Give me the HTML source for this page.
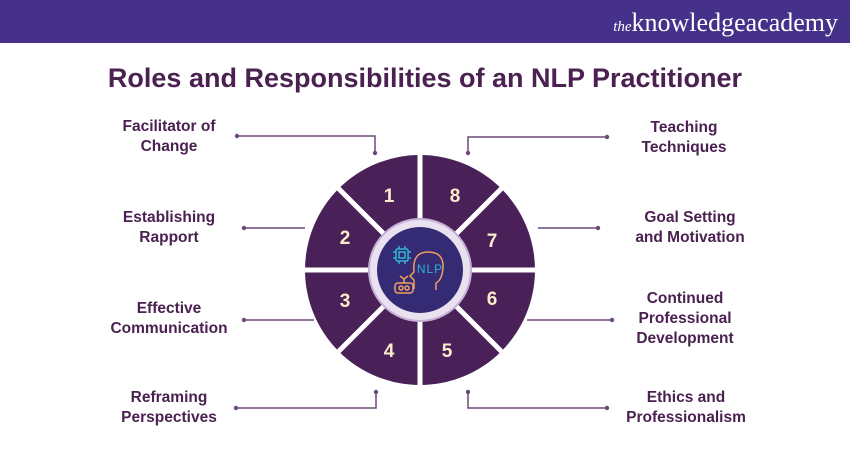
<!DOCTYPE html>
<html><head><meta charset="utf-8"><style>
body{margin:0;background:#fff;}
svg{display:block;font-family:"Liberation Sans",sans-serif;}
</style></head><body>
<svg width="850" height="450" viewBox="0 0 850 450" xmlns="http://www.w3.org/2000/svg">
<rect x="0" y="0" width="850" height="43" fill="#45318a"/>
<text x="838" y="31" text-anchor="end" font-family="Liberation Serif,serif" font-size="26" fill="#fff"><tspan font-style="italic" font-size="15">the</tspan>knowledgeacademy</text>
<text x="425" y="87" text-anchor="middle" font-size="27" font-weight="bold" fill="#4a2150">Roles and Responsibilities of an NLP Practitioner</text>

<circle cx="420" cy="270" r="115" fill="#4a2058"/>
<g stroke="#fff" stroke-width="5">
<line x1="420" y1="150" x2="420" y2="390"/>
<line x1="300" y1="270" x2="540" y2="270"/>
<line x1="335" y1="185" x2="505" y2="355"/>
<line x1="505" y1="185" x2="335" y2="355"/>
</g>
<circle cx="420" cy="270" r="51" fill="#e9e0f0" stroke="#c4b0d4" stroke-width="2"/>
<circle cx="420" cy="270" r="43" fill="#352a74"/>
<g fill="none" stroke-width="1.5">
<rect x="396" y="249" width="12" height="12" rx="1.5" stroke="#2fb5d0"/>
<rect x="399" y="252" width="6" height="6" stroke="#2fb5d0"/>
<path d="M399 249v-3M405 249v-3M399 261v3M405 261v3M396 252h-3M396 258h-3M408 252h3M408 258h3" stroke="#2fb5d0"/>
<path d="M414 289 L414 280 L410 276 L414 272 Q412 252 428 252 Q444 252 443 268 Q442 280 436 283 L436 290" stroke="#f0a060"/>
<rect x="395" y="283" width="18" height="10" rx="3" stroke="#f0a060"/>
<circle cx="401" cy="288" r="2" stroke="#f0a060"/><circle cx="407" cy="288" r="2" stroke="#f0a060"/>
<path d="M404 283v-4M400 276l4 3 4-3" stroke="#f0a060"/>
</g>
<text x="430" y="273" text-anchor="middle" font-size="12" fill="#2fb5d0" letter-spacing="1">NLP</text>

<g font-size="19" font-weight="bold" fill="#fbeccb" text-anchor="middle">
<text x="389" y="202">1</text><text x="455" y="202">8</text>
<text x="345" y="244">2</text><text x="492" y="247">7</text>
<text x="345" y="307">3</text><text x="492" y="305">6</text>
<text x="389" y="357">4</text><text x="447" y="357">5</text>
</g>

<g stroke="#6b4a78" stroke-width="1.5" fill="none">
<path d="M237 136H375V153"/><path d="M244 228H305"/><path d="M244 320H314"/><path d="M236 408H376V392"/>
<path d="M468 153V137H607"/><path d="M538 228H598"/><path d="M527 320H612"/><path d="M468 392V408H607"/>
</g>
<g fill="#6b4a78">
<circle cx="237" cy="136" r="2.2"/><circle cx="375" cy="153" r="2.2"/><circle cx="244" cy="228" r="2.2"/><circle cx="244" cy="320" r="2.2"/>
<circle cx="236" cy="408" r="2.2"/><circle cx="376" cy="392" r="2.2"/><circle cx="468" cy="153" r="2.2"/><circle cx="607" cy="137" r="2.2"/>
<circle cx="598" cy="228" r="2.2"/><circle cx="612" cy="320" r="2.2"/><circle cx="468" cy="392" r="2.2"/><circle cx="607" cy="408" r="2.2"/>
</g>

<g font-size="15.5" font-weight="bold" fill="#4a2150" text-anchor="middle">
<text x="169" y="131">Facilitator of</text><text x="169" y="151">Change</text>
<text x="169" y="222">Establishing</text><text x="169" y="242">Rapport</text>
<text x="169" y="313">Effective</text><text x="169" y="333">Communication</text>
<text x="169" y="402">Reframing</text><text x="169" y="422">Perspectives</text>
<text x="684" y="132">Teaching</text><text x="684" y="152">Techniques</text>
<text x="690" y="222">Goal Setting</text><text x="690" y="242">and Motivation</text>
<text x="685" y="303">Continued</text><text x="685" y="323">Professional</text><text x="685" y="343">Development</text>
<text x="686" y="402">Ethics and</text><text x="686" y="422">Professionalism</text>
</g>
</svg>
</body></html>
